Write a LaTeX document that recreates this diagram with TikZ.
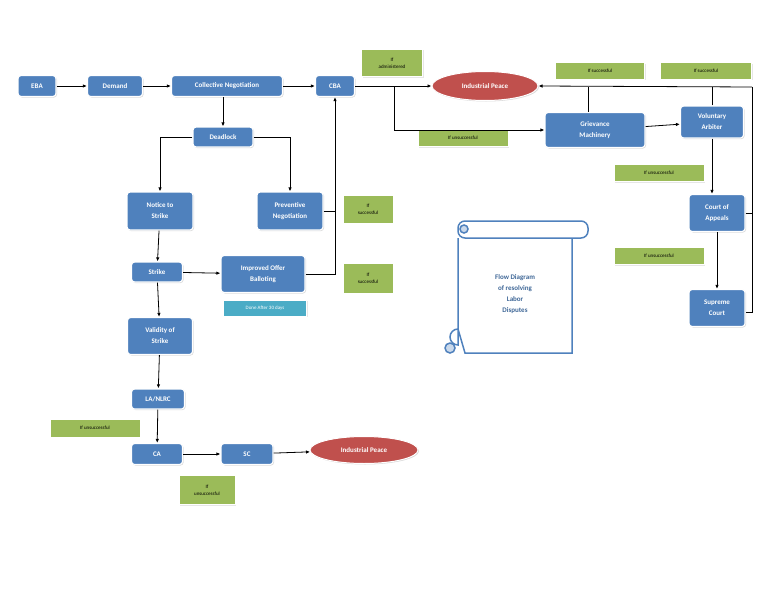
\documentclass[tikz,border=0pt]{standalone}
\usepackage{fontspec}
\setmainfont{Carlito}
\usetikzlibrary{shapes.geometric,arrows.meta,shadows}
\definecolor{bx}{HTML}{4F81BD}
\definecolor{gr}{HTML}{9BBB59}
\definecolor{rd}{HTML}{C0504D}
\definecolor{cy}{HTML}{4BACC6}
\tikzset{
 b/.style={draw=white,line width=1.2pt,fill=bx,rounded corners=3pt,text=white,font=\fontsize{7}{9}\selectfont\bfseries,align=center,inner sep=0pt,drop shadow={shadow xshift=1pt,shadow yshift=-1pt,opacity=0.3}},
 g/.style={draw=white,line width=1pt,fill=gr,font=\fontsize{5}{7}\selectfont,align=center,inner sep=0pt,drop shadow={shadow xshift=1pt,shadow yshift=-1pt,opacity=0.2}},
 ip/.style={ellipse,draw=white,line width=1pt,fill=rd,text=white,font=\fontsize{7}{9}\selectfont\bfseries,inner sep=0pt,drop shadow={shadow xshift=1pt,shadow yshift=-1pt,opacity=0.3}},
 a/.style={-{Latex[length=4pt,width=3.5pt]},line width=0.8pt},
 l/.style={line width=0.8pt}
}
\begin{document}
\begin{tikzpicture}[x=1pt,y=-1pt]
\useasboundingbox (0,0) rectangle (768,594);
\newcommand{\bx}[5]{\node[b,minimum width=#3pt,minimum height=#4pt] (#1) at #2 {#5};}
\bx{eba}{(37,86)}{38}{21}{EBA}
\bx{dem}{(115,86)}{55}{21}{Demand}
\bx{cn}{(227,86)}{111}{21}{Collective Negotiation}
\bx{cba}{(335,86)}{39}{21}{CBA}
\bx{dl}{(223,137)}{60}{20}{Deadlock}
\bx{ns}{(160,211)}{66}{38}{Notice to\\[2pt]Strike}
\bx{pn}{(290,211)}{66}{38}{Preventive\\[2pt]Negotiation}
\bx{st}{(157,272)}{51}{20}{Strike}
\bx{io}{(263,274)}{84}{37}{Improved Offer\\[2pt]Balloting}
\bx{vs}{(160,336)}{65}{37}{Validity of\\[2pt]Strike}
\bx{la}{(158,399)}{53}{20}{LA/NLRC}
\bx{ca}{(157,454)}{51}{21}{CA}
\bx{sc}{(247,454)}{52}{21}{SC}
\bx{gm}{(595,130)}{100}{35}{Grievance\\[2pt]Machinery}
\bx{va}{(712,122)}{63}{32}{Voluntary\\[2pt]Arbiter}
\bx{coa}{(717,213)}{56}{37}{Court of\\[2pt]Appeals}
\bx{sup}{(717,308)}{56}{37}{Supreme\\[2pt]Court}
\node[draw=white,fill=cy,text=white,font=\fontsize{5}{7}\selectfont,minimum width=83pt,minimum height=16pt,inner sep=0pt,drop shadow={shadow xshift=1pt,shadow yshift=-1pt,opacity=0.2}] (done) at (265,308) {Done After 30 days};
\node[ip,minimum width=106pt,minimum height=29pt] (ip1) at (485,86) {Industrial Peace};
\node[ip,minimum width=108pt,minimum height=27pt] (ip2) at (364,450) {Industrial Peace};
\newcommand{\gl}[5]{\node[g,minimum width=#3pt,minimum height=#4pt] (#1) at #2 {#5};}
\gl{g1}{(392,63)}{61}{27}{If\\administered}
\gl{g2}{(600,71)}{89}{16}{If successful}
\gl{g3}{(706,71)}{91}{16}{If successful}
\gl{g4}{(463,138)}{90}{17}{If unsuccessful}
\gl{g5}{(659,173)}{90}{17}{If unsuccessful}
\gl{g6}{(659,256)}{90}{17}{If unsuccessful}
\gl{g7}{(368,209)}{50}{28}{If\\successful}
\gl{g8}{(368,278)}{50}{30}{If\\successful}
\gl{g9}{(95,428)}{90}{18}{If unsuccessful}
\gl{g10}{(207,490)}{56}{29}{If\\unsuccessful}
% scroll
\begin{scope}[draw=bx,line width=1.5pt,fill=white]
\draw (458,238) -- (458,345) arc[start angle=90,end angle=270,radius=8] -- (465,353) -- (572,353) -- (572,238);
\draw[fill=white,rounded corners=7pt] (458,221) rectangle (588,238);
\draw[fill=bx!30] (450,348) circle[radius=5];
\draw[fill=bx!30] (464,229) circle[radius=4];
\end{scope}
\node[font=\fontsize{7}{9}\selectfont\bfseries,text=bx!80!black,align=center] (title) at (515,294) {Flow Diagram\\[2pt]of resolving\\[2pt]Labor\\[2pt]Disputes};
% connectors
\draw[a] (eba) -- (dem);
\draw[a] (dem) -- (cn);
\draw[a] (cn) -- (cba);
\draw[a] (cn.south -| dl.north) -- (dl.north);
\draw[a] (dl.west) -| (ns.north);
\draw[a] (dl.east) -| (pn.north);
\draw[a] (ns) -- (st);
\draw[a] (st) -- (io);
\draw[a] (st) -- (vs);
\draw[a] (vs) -- (la);
\draw[a] (la) -- (ca);
\draw[a] (ca) -- (sc);
\draw[a] (sc) -- (ip2);
\draw[a] (io.east) -| (cba.south);
\draw[l] (pn.east) -- (pn.east -| cba.south);
\draw[a] (cba.east) -- (ip1.west);
\coordinate (br) at (394,86);
\draw[a] (br) |- (gm.west);
\coordinate (tr) at (752,87);
\draw[a] (tr) -- (ip1.east);
\draw[l] (gm.north -| 588,0) -- (588,87);
\draw[l] (va.north) -- (va.north |- tr);
\draw[a] (gm) -- (va);
\draw[a] (va.south) -- (va.south |- coa.north);
\draw[a] (coa) -- (sup);
\draw[l] (tr) -- (752,312) -- (sup.east |- 0,312);
\draw[l] (coa.east) -- (752,213);
\end{tikzpicture}
\end{document}
